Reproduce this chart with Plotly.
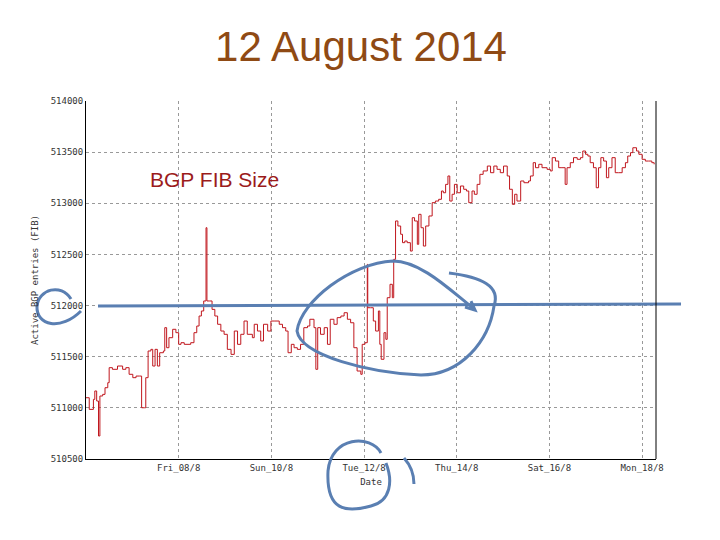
import plotly.graph_objects as go

# time in days since Wed 06/08 00:00
days = [0.00,0.07,0.16,0.19,0.23,0.27,0.30,0.36,0.41,0.47,0.50,0.57,0.68,0.79,0.86,0.93,1.01,1.08,1.15,1.20,1.26,1.29,1.34,1.40,1.44,1.49,1.54,1.59,1.67,1.70,1.74,1.79,1.87,1.94,2.00,2.05,2.12,2.26,2.33,2.39,2.44,2.49,2.54,2.59,2.61,2.66,2.72,2.78,2.84,2.91,2.98,3.05,3.13,3.20,3.27,3.34,3.41,3.48,3.59,3.63,3.70,3.77,3.83,3.92,3.99,4.06,4.17,4.24,4.31,4.36,4.43,4.49,4.56,4.63,4.70,4.78,4.83,4.92,4.96,5.00,5.06,5.14,5.21,5.27,5.35,5.42,5.50,5.57,5.64,5.71,5.78,5.85,5.93,5.96,6.02,6.07,6.08,6.14,6.20,6.25,6.31,6.34,
        6.37,6.43,6.47,6.50,6.56,6.61,6.64,6.68,6.73,6.79,6.83,6.88,6.93,7.00,7.04,7.09,7.15,7.18,7.23,7.28,7.33,7.40,7.47,7.54,7.61,7.67,7.71,7.76,7.81,7.85,7.90,7.95,8.01,8.08,8.15,8.21,8.26,8.33,8.38,8.44,8.50,8.57,8.66,8.73,8.80,8.87,8.94,9.01,9.09,9.14,9.20,9.25,9.30,9.38,9.45,9.55,9.59,9.65,9.70,9.77,9.84,9.95,10.02,10.06,10.13,10.20,10.27,10.34,10.38,10.45,10.52,10.60,10.67,10.72,10.78,10.83,10.88,10.95,11.01,11.06,11.11,11.17,11.23,11.28,11.35,11.42,11.49,11.57,11.64,11.69,11.75,11.80,11.88,11.93,12.00,12.07,12.14,12.21,12.26]
fib = [511099,510985,511083,511165,511067,510725,511116,511132,511197,511246,511393,511377,511409,511377,511393,511328,511295,511311,511311,511001,511001,511295,511556,511572,511409,511572,511409,511539,511556,511784,511588,511686,511768,511735,511621,511637,511621,511637,511735,511800,511898,511947,512045,512761,512045,512045,511963,511898,511817,511751,511719,511572,511523,511751,511621,511719,511849,511719,511686,511817,511751,511654,511817,511751,511849,511849,511817,511784,511751,511539,511621,511588,511572,511621,511784,511800,511866,511784,511377,511784,511719,511784,511621,511866,511817,511882,511898,511930,511866,511832,511588,511360,511328,511621,511637,512403,511979,511979,511849,511751,511947,511621,
       511475,511735,511670,512077,512208,512077,512452,512827,512778,512697,512615,512631,512615,512533,512859,512827,512599,512892,512761,512582,512778,512876,513006,513022,513039,513120,513103,513185,513267,513022,513088,513185,513103,513169,513137,513120,513006,513120,513088,513185,513283,513316,513364,513299,513364,513332,513299,513364,513267,513137,512990,513088,513022,513218,513201,513218,513267,513397,513348,513381,513348,513332,513316,513446,513413,513348,513348,513185,513348,513397,513446,513430,513446,513511,513479,513462,513397,513348,513152,513348,513446,513413,513250,513348,513446,513299,513299,513348,513397,513462,513495,513543,513511,513479,513430,513413,513413,513397,513381]

tick_days = [2, 4, 6, 8, 10, 12]
tick_labels = ["Fri_08/8", "Sun_10/8", "Tue_12/8", "Thu_14/8", "Sat_16/8", "Mon_18/8"]
y_ticks = [510500, 511000, 511500, 512000, 512500, 513000, 513500, 514000]

OFF = 7  # page offset
L, R, T, B = 85, 655, 100, 458
def px(x, y):
    return ((x - L) / (R - L), (B - y) / (B - T))

def path(cmds):
    out = []
    for c in cmds:
        if isinstance(c, str):
            out.append(c)
        else:
            a, b = px(*c)
            out.append(f"{a:.4f},{b:.4f}")
    return " ".join(out)

fig = go.Figure(go.Scatter(x=days, y=fib, mode="lines", line=dict(color="#c0171e", width=1, shape="hv"),
                           hoverinfo="skip"))

blue = "#5a7fb2"
shapes = []
def addpath(cmds):
    shapes.append(dict(type="path", xref="paper", yref="paper", path=path(cmds),
                       line=dict(color=blue, width=3)))
addpath(["M", (97, 305), "L", (680, 303)])
addpath(["M", (448, 272), "C", (480, 276), (500, 285), (493, 305),
         "C", (488, 340), (460, 374), (420, 374),
         "C", (370, 372), (300, 355), (296, 330),
         "C", (300, 300), (350, 262), (392, 260),
         "C", (420, 260), (450, 290), (472, 307)])
addpath(["M", (464, 306), "L", (474, 309), "L", (470, 300)])
addpath(["M", (380, 452), "C", (370, 433), (330, 435), (327, 470),
         "C", (325, 510), (345, 512), (370, 505),
         "C", (390, 500), (392, 480), (385, 462)])
addpath(["M", (403, 457), "Q", (413, 468), (413, 483)])
addpath(["M", (70, 298), "C", (60, 282), (38, 288), (36, 305),
         "C", (35, 325), (60, 330), (80, 310)])

tickfont = dict(family="DejaVu Sans Mono", size=9, color="#333")
fig.update_layout(
    width=720, height=540, margin=dict(l=L - OFF, r=720 - R + OFF, t=T - OFF, b=540 - B + OFF),
    paper_bgcolor="white", plot_bgcolor="white", showlegend=False,
    title=dict(text="12 August 2014", x=353 / 720, xanchor="center", xref="container", y=1 - 38 / 540, yanchor="middle",
               font=dict(family="Liberation Sans", size=42, color="#8f4a14")),
    xaxis=dict(range=[0, 12.3], tickvals=tick_days, ticktext=tick_labels, tickfont=tickfont,
               showgrid=True, gridcolor="#999", griddash="dot", gridwidth=1,
               showline=True, linecolor="black", mirror=False, zeroline=False,
               title=dict(text="Date", font=tickfont, standoff=6)),
    yaxis=dict(range=[510500, 514000], tickvals=y_ticks, tickformat="d", tickfont=tickfont,
               showgrid=True, gridcolor="#999", griddash="dot", gridwidth=1,
               showline=True, linecolor="black", zeroline=False,
               title=dict(text="Active BGP entries (FIB)", font=tickfont, standoff=10)),
    shapes=shapes,
    annotations=[dict(text="BGP FIB Size", xref="paper", yref="paper", x=px(147, 178)[0], y=px(147, 178)[1],
                      xanchor="left", yanchor="middle", showarrow=False,
                      font=dict(family="Liberation Sans", size=21, color="#9b1b1b"))],
)
fig.add_shape(type="line", xref="paper", yref="paper", x0=1, x1=1, y0=0, y1=1, line=dict(color="black", width=1))
fig.write_html("out.html")
